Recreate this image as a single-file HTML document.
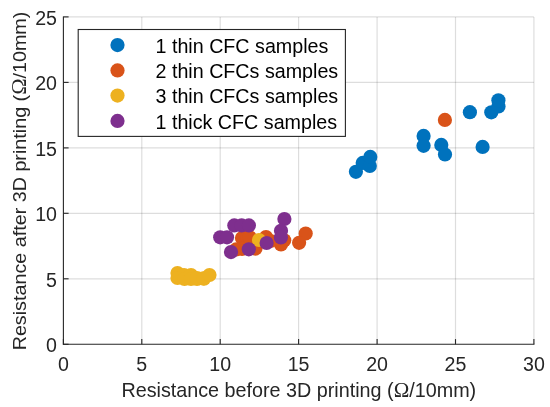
<!DOCTYPE html>
<html><head><meta charset="utf-8"><title>Resistance scatter</title>
<style>
html,body{margin:0;padding:0;background:#fff;}
body{width:550px;height:407px;overflow:hidden;}
svg{display:block;}
text{font-family:"Liberation Sans",sans-serif;fill:#262626;}
.tick{font-size:19.6px;}
.lab{font-size:19.75px;}
.leg{font-size:19.7px;fill:#000;}
</style></head><body>
<svg width="550" height="407" viewBox="0 0 550 407">
<rect width="550" height="407" fill="#fff"/>
<g stroke="#000" stroke-opacity="0.135" stroke-width="1.2"><line x1="141.8" y1="16.9" x2="141.8" y2="344.3"/><line x1="220.2" y1="16.9" x2="220.2" y2="344.3"/><line x1="298.6" y1="16.9" x2="298.6" y2="344.3"/><line x1="377.1" y1="16.9" x2="377.1" y2="344.3"/><line x1="455.5" y1="16.9" x2="455.5" y2="344.3"/><line x1="533.9" y1="16.9" x2="533.9" y2="344.3"/><line x1="63.4" y1="278.8" x2="533.9" y2="278.8"/><line x1="63.4" y1="213.3" x2="533.9" y2="213.3"/><line x1="63.4" y1="147.9" x2="533.9" y2="147.9"/><line x1="63.4" y1="82.4" x2="533.9" y2="82.4"/><line x1="63.4" y1="16.9" x2="533.9" y2="16.9"/></g>
<g fill="#0072BD"><circle cx="355.9" cy="171.8" r="7.1"/><circle cx="362.7" cy="162.9" r="7.1"/><circle cx="369.8" cy="166.0" r="7.1"/><circle cx="370.3" cy="156.9" r="7.1"/><circle cx="423.6" cy="135.9" r="7.1"/><circle cx="423.6" cy="145.8" r="7.1"/><circle cx="441.3" cy="144.9" r="7.1"/><circle cx="445.0" cy="154.5" r="7.1"/><circle cx="482.6" cy="146.9" r="7.1"/><circle cx="469.9" cy="112.2" r="7.1"/><circle cx="491.3" cy="112.3" r="7.1"/><circle cx="498.5" cy="106.5" r="7.1"/><circle cx="498.4" cy="100.3" r="7.1"/></g>
<g fill="#D95319"><circle cx="444.9" cy="119.9" r="7.1"/><circle cx="305.7" cy="233.5" r="7.1"/><circle cx="299.1" cy="242.8" r="7.1"/><circle cx="284.2" cy="240.3" r="7.1"/><circle cx="281" cy="244.5" r="7.1"/><circle cx="266" cy="237" r="7.1"/><circle cx="270.5" cy="241" r="7.1"/><circle cx="242" cy="238" r="7.1"/><circle cx="247" cy="237" r="7.1"/><circle cx="250" cy="240" r="7.1"/><circle cx="242" cy="248.9" r="7.1"/><circle cx="255.5" cy="248.6" r="7.1"/><circle cx="236.2" cy="249.4" r="7.1"/><circle cx="249.8" cy="237.3" r="7.1"/></g>
<g fill="#EDB120"><circle cx="259" cy="240" r="7.1"/><circle cx="177.5" cy="273" r="7.1"/><circle cx="177.5" cy="278" r="7.1"/><circle cx="184" cy="275" r="7.1"/><circle cx="184.5" cy="279" r="7.1"/><circle cx="191" cy="275" r="7.1"/><circle cx="191" cy="279" r="7.1"/><circle cx="197" cy="279" r="7.1"/><circle cx="197" cy="278" r="7.1"/><circle cx="204" cy="278.7" r="7.1"/><circle cx="203.5" cy="278.3" r="7.1"/><circle cx="209.5" cy="275" r="7.1"/></g>
<g fill="#7E2F8E"><circle cx="284.4" cy="219" r="7.1"/><circle cx="281.0" cy="230.8" r="7.1"/><circle cx="280.9" cy="237.5" r="7.1"/><circle cx="266.6" cy="243" r="7.1"/><circle cx="248.8" cy="249.3" r="7.1"/><circle cx="231" cy="252.1" r="7.1"/><circle cx="220.2" cy="237.3" r="7.1"/><circle cx="227" cy="237.3" r="7.1"/><circle cx="234.3" cy="225.4" r="7.1"/><circle cx="241.6" cy="225.4" r="7.1"/><circle cx="248.9" cy="225.4" r="7.1"/></g>
<g stroke="#262626" stroke-width="1.1"><line x1="63.4" y1="16.4" x2="63.4" y2="344.8"/><line x1="62.9" y1="344.3" x2="534.4" y2="344.3"/><line x1="63.4" y1="344.3" x2="63.4" y2="339.1"/><line x1="141.8" y1="344.3" x2="141.8" y2="339.1"/><line x1="220.2" y1="344.3" x2="220.2" y2="339.1"/><line x1="298.6" y1="344.3" x2="298.6" y2="339.1"/><line x1="377.1" y1="344.3" x2="377.1" y2="339.1"/><line x1="455.5" y1="344.3" x2="455.5" y2="339.1"/><line x1="533.9" y1="344.3" x2="533.9" y2="339.1"/><line x1="63.4" y1="344.3" x2="68.6" y2="344.3"/><line x1="63.4" y1="278.8" x2="68.6" y2="278.8"/><line x1="63.4" y1="213.3" x2="68.6" y2="213.3"/><line x1="63.4" y1="147.9" x2="68.6" y2="147.9"/><line x1="63.4" y1="82.4" x2="68.6" y2="82.4"/><line x1="63.4" y1="16.9" x2="68.6" y2="16.9"/></g>
<text class="tick" x="63.4" y="371" text-anchor="middle">0</text><text class="tick" x="141.8" y="371" text-anchor="middle">5</text><text class="tick" x="220.2" y="371" text-anchor="middle">10</text><text class="tick" x="298.6" y="371" text-anchor="middle">15</text><text class="tick" x="377.1" y="371" text-anchor="middle">20</text><text class="tick" x="455.5" y="371" text-anchor="middle">25</text><text class="tick" x="533.9" y="371" text-anchor="middle">30</text><text class="tick" x="57" y="352.2" text-anchor="end">0</text><text class="tick" x="57" y="286.7" text-anchor="end">5</text><text class="tick" x="57" y="221.2" text-anchor="end">10</text><text class="tick" x="57" y="155.8" text-anchor="end">15</text><text class="tick" x="57" y="90.3" text-anchor="end">20</text><text class="tick" x="57" y="24.8" text-anchor="end">25</text>
<text class="lab" x="298.8" y="396.6" text-anchor="middle">Resistance before 3D printing (<tspan font-family="Liberation Serif,serif" font-size="21">Ω</tspan>/10mm)</text>
<text class="lab" style="font-size:18.9px" transform="translate(25.7,181) rotate(-90) scale(1.045,1)" text-anchor="middle">Resistance after 3D printing (<tspan font-family="Liberation Serif,serif" font-size="21">Ω</tspan>/10mm)</text>
<rect x="78.2" y="29.5" width="267.2" height="106.9" fill="#fff" stroke="#262626" stroke-width="1.1"/>
<circle cx="117.5" cy="45.1" r="7.1" fill="#0072BD"/><text class="leg" x="155.5" y="52.7">1 thin CFC samples</text>
<circle cx="117.5" cy="70.4" r="7.1" fill="#D95319"/><text class="leg" x="155.5" y="78.0">2 thin CFCs samples</text>
<circle cx="117.5" cy="95.6" r="7.1" fill="#EDB120"/><text class="leg" x="155.5" y="103.2">3 thin CFCs samples</text>
<circle cx="117.5" cy="120.9" r="7.1" fill="#7E2F8E"/><text class="leg" x="155.5" y="128.5">1 thick CFC samples</text>
</svg></body></html>
